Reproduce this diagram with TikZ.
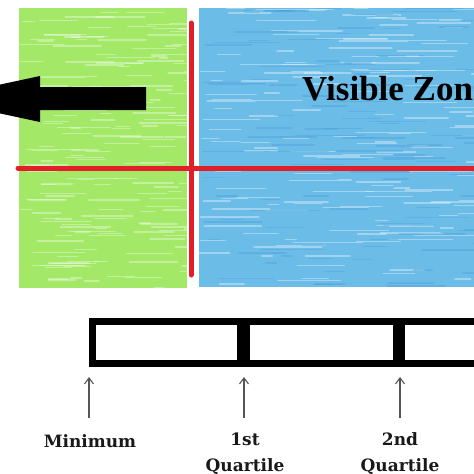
\documentclass[tikz,border=0pt]{standalone}
\usepackage{fontspec}
\usetikzlibrary{arrows.meta}
\setmainfont{Liberation Serif}
\newfontfamily\labfont{DejaVu Serif}
\definecolor{zgreen}{RGB}{164,232,104}
\definecolor{zblue}{RGB}{108,188,232}
\definecolor{zbluedk}{RGB}{72,160,215}
\definecolor{zred}{RGB}{228,30,40}
\definecolor{arrowgray}{RGB}{85,85,85}
\begin{document}
\begin{tikzpicture}[x=1pt,y=-1pt,
  redline/.style={draw=zred,line width=5pt,line cap=round},
  boxline/.style={draw=black,line width=7pt},
  divider/.style={fill=black},
  markarrow/.style={draw=arrowgray,line width=1.1pt,-{Straight Barb[length=6pt,width=9pt]}},
  lab/.style={font=\labfont\bfseries\fontsize{17}{26}\selectfont,align=center,inner sep=0pt,text=black!90},
  streak/.style={line width=1.4pt,line cap=round}]
\useasboundingbox (0,0) rectangle (474,474);
\fill[white] (0,0) rectangle (474,474);
\begin{scope}
\clip (0,0) rectangle (474,474);
% green zone
\fill[zgreen] (19,8) rectangle (187,288);
\begin{scope}
\clip (19,8) rectangle (187,288);
\pgfmathsetseed{7}
\foreach \i in {1,...,170}{
  \pgfmathsetmacro\xx{19+rnd*168}
  \pgfmathsetmacro\yy{8+rnd*280}
  \pgfmathsetmacro\ll{8+rnd*45}
  \draw[streak,white,opacity=0.35] (\xx,\yy) -- ++(\ll,0);
}
\end{scope}
% blue zone
\fill[zblue] (199,8) rectangle (480,287);
\begin{scope}
\clip (199,8) rectangle (480,287);
\pgfmathsetseed{11}
\foreach \i in {1,...,160}{
  \pgfmathsetmacro\xx{199+rnd*280}
  \pgfmathsetmacro\yy{8+rnd*280}
  \pgfmathsetmacro\ll{10+rnd*60}
  \draw[streak,white,opacity=0.35] (\xx,\yy) -- ++(\ll,0);
}
\foreach \i in {1,...,110}{
  \pgfmathsetmacro\xx{199+rnd*280}
  \pgfmathsetmacro\yy{8+rnd*280}
  \pgfmathsetmacro\ll{10+rnd*60}
  \draw[streak,zbluedk,opacity=0.4] (\xx,\yy) -- ++(\ll,0);
}
\end{scope}
% big black arrow
\fill[black] (-2,85) -- (40,76) -- (40,87) -- (146,87) -- (146,110) -- (40,110) -- (40,122) -- (-2,113) -- cycle;
% red cross lines
\coordinate (vtop) at (191,23);
\coordinate (vbot) at (191,275);
\coordinate (hleft) at (18,168);
\coordinate (hright) at (490,168);
\draw[redline] (vtop) -- (vbot);
\draw[redline] (hleft) -- (hright);
% title (cut off at the right edge, as in the original)
\node[anchor=base west,inner sep=0pt,font=\bfseries\fontsize{35}{35}\selectfont] (vz) at (302,100) {Visible Zone};
% box plot bar
\draw[boxline] (92.5,321.5) rectangle (500,363.5);
\fill[divider] (237,318) rectangle (250,367);
\fill[divider] (393,318) rectangle (405,367);
% labels
\node[lab,anchor=base] (minl) at (90,447) {Minimum};
\node[lab,anchor=base] (q1) at (245,471) {1st\\Quartile};
\node[lab,anchor=base] (q2) at (400,471) {2nd\\Quartile};
% small arrows
\coordinate (a0s) at (89,418); \coordinate (a0e) at (89,377);
\coordinate (a1s) at (244,418); \coordinate (a1e) at (244,377);
\coordinate (a2s) at (400,418); \coordinate (a2e) at (400,377);
\draw[markarrow] (a0s) -- (a0e);
\draw[markarrow] (a1s) -- (a1e);
\draw[markarrow] (a2s) -- (a2e);
\end{scope}
\end{tikzpicture}
\end{document}
